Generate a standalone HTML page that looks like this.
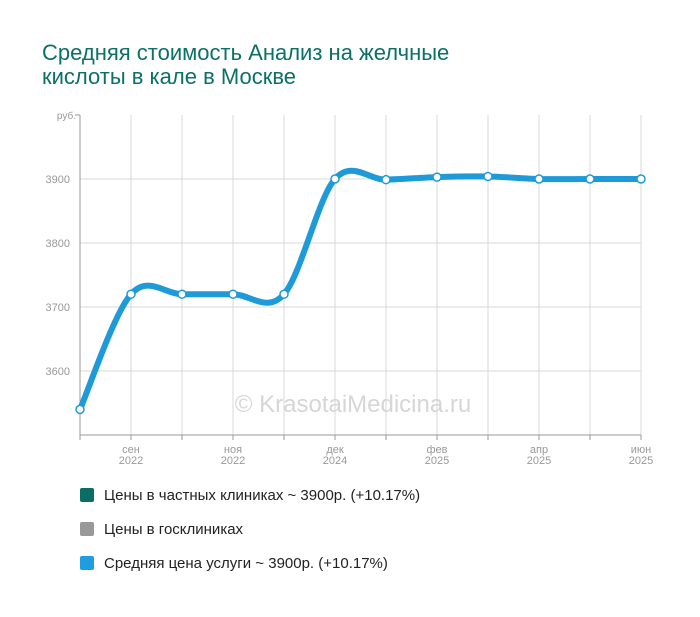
<!DOCTYPE html>
<html><head><meta charset="utf-8"><style>
body{margin:0;background:#fff;font-family:"Liberation Sans",sans-serif;}
svg text{font-family:"Liberation Sans",sans-serif;}
</style></head><body>
<svg width="700" height="612" xmlns="http://www.w3.org/2000/svg">
<text x="42" y="60" font-size="22" fill="#0a7068">Средняя стоимость Анализ на желчные</text>
<text x="42" y="84" font-size="22" fill="#0a7068">кислоты в кале в Москве</text>
<g id="grid"></g>
<g id="axes"></g>
<text x="353" y="412" font-size="24" fill="#d6d6d6" text-anchor="middle">© KrasotaiMedicina.ru</text>
<g id="series"></g>
<g>
<g><rect x="80" y="488" width="14" height="14" rx="2" fill="#0b6e64"/><text x="104" y="500" font-size="15" fill="#222">Цены в частных клиниках ~ 3900р. (+10.17%)</text></g>
<g><rect x="80" y="522" width="14" height="14" rx="2" fill="#999"/><text x="104" y="534" font-size="15" fill="#222">Цены в госклиниках</text></g>
<g><rect x="80" y="556" width="14" height="14" rx="2" fill="#1f9de0"/><text x="104" y="568" font-size="15" fill="#222">Средняя цена услуги ~ 3900р. (+10.17%)</text></g>
</g>
</svg>
<script>
const values=[3540,3720,3720,3720,3720,3900,3899,3903,3904,3900,3900,3900];
const xLabels=["","сен|2022","","ноя|2022","","дек|2024","","фев|2025","","апр|2025","","июн|2025"];
const yTicks=[3600,3700,3800,3900];
const NS="http://www.w3.org/2000/svg";
const x0=80,dx=51,yBase=435,yMin=3500,pxPer=0.64;
const X=i=>x0+i*dx, Y=v=>yBase-(v-yMin)*pxPer;
function mk(tag,attrs,parent){const e=document.createElementNS(NS,tag);for(const k in attrs)e.setAttribute(k,attrs[k]);parent.appendChild(e);return e;}
const grid=document.getElementById('grid'),axes=document.getElementById('axes'),series=document.getElementById('series');
yTicks.forEach(t=>{
 const l=mk('line',{x1:80,x2:641,y1:Y(t),y2:Y(t),stroke:'#d8d8d8','stroke-width':1},grid);
 
 
 const tx=mk('text',{x:70,y:Y(t)+4,'font-size':11,fill:'#999','text-anchor':'end'},axes);tx.textContent=t;
 
 
});
values.forEach((v,i)=>{
 if(i>0){const l=mk('line',{x1:X(i),x2:X(i),y1:115,y2:435,stroke:'#d8d8d8','stroke-width':1},grid);
 
 }
 mk('line',{x1:X(i),x2:X(i),y1:435,y2:440,stroke:'#999'},axes);
 if(xLabels[i]){const [a,b]=xLabels[i].split('|');
  const t1=mk('text',{x:X(i),y:453,'font-size':11,fill:'#999','text-anchor':'middle'},axes);t1.textContent=a;
  
  
  const t2=mk('text',{x:X(i),y:464,'font-size':11,fill:'#999','text-anchor':'middle'},axes);t2.textContent=b;
  
  }
});
mk('line',{x1:80,x2:80,y1:115,y2:435,stroke:'#999'},axes);
mk('line',{x1:80,x2:641,y1:435,y2:435,stroke:'#999'},axes);
mk('line',{x1:75,x2:80,y1:115,y2:115,stroke:'#999'},axes);
const ru=mk('text',{x:76,y:119,'font-size':10,fill:'#999','text-anchor':'end'},axes);ru.textContent='руб.';


const pts=values.map((v,i)=>[X(i),Y(v)]);
let d=`M${pts[0][0]},${pts[0][1]}`;const s=0.5;
for(let i=0;i<pts.length-1;i++){const p0=pts[Math.max(0,i-1)],p1=pts[i],p2=pts[i+1],p3=pts[Math.min(pts.length-1,i+2)];
 const c1=[p1[0]+(p2[0]-p0[0])*s/3,p1[1]+(p2[1]-p0[1])*s/3],c2=[p2[0]-(p3[0]-p1[0])*s/3,p2[1]-(p3[1]-p1[1])*s/3];
 d+=` C${c1[0]},${c1[1]} ${c2[0]},${c2[1]} ${p2[0]},${p2[1]}`;}
const path=mk('path',{d:d,fill:'none',stroke:'#1f9ad8','stroke-width':6,'stroke-linecap':'round'},series);


pts.forEach(p=>{const c=mk('circle',{cx:p[0],cy:p[1],r:4,fill:'#fff',stroke:'#1f9ad8','stroke-width':1.5},series);
 
 });
</script>
</body></html>
